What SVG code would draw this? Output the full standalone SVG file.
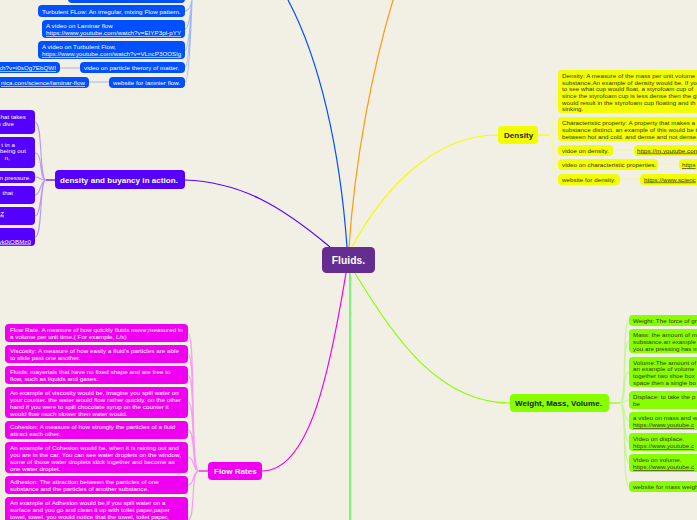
<svg xmlns="http://www.w3.org/2000/svg" width="697" height="520" viewBox="0 0 697 520">
<style>
text{font-family:"Liberation Sans",Arial,sans-serif;font-size:6.2px;letter-spacing:.05px}
.w{fill:#fff}.d{fill:#333310}.e{text-anchor:end}
.u{text-decoration:underline}
.b{font-weight:bold;font-size:8px}
.bl{fill:#0050ff}.pu{fill:#5500ff}.pk{fill:#f000f0}.ye{fill:#f2ff00}.gr{fill:#88ff00}
path{fill:none}
.cb{stroke:#9db9f5;stroke-width:1.1}.cp{stroke:#b99af5;stroke-width:1.1}.ck{stroke:#f79cf2;stroke-width:1.1}.cy{stroke:#f5f6a5;stroke-width:1.1}.cg{stroke:#c5f598;stroke-width:1.1}
</style>
<rect width="697" height="520" fill="#f2efe4"/>
<g id="connectors">
<path d="M347 247C340 150 320 60 288 0" stroke="#0050ff" stroke-width="1.2"/>
<path d="M349 247C355 160 372 70 393 0" stroke="#ff9a10" stroke-width="1.2"/>
<path d="M330 247C280 205 240 182 185 180" stroke="#5500ff" stroke-width="1.2"/>
<path d="M352 247C380 195 430 135 498 135" stroke="#f2ff00" stroke-width="1.2"/>
<path d="M355 273C395 340 440 403 510 403" stroke="#88ff00" stroke-width="1.2"/>
<path d="M346 273C330 370 310 471 262 471" stroke="#f000f0" stroke-width="1.2"/>
<path d="M350 273V520" stroke="#22ff22" stroke-width="1.2"/>
<path class="cb" d="M185 11C189 11 191 5 192 0M185 29C189 29 191 10 192 0M185 50C189 50 191 15 192 0M185 67C189 67 191 20 192 0M185 82C189 82 191 30 192 0"/>
<path class="cb" d="M60 68H80M89 82H109"/>
<path d="M55 180H46" stroke="#5500ff" stroke-width="1.2"/>
<path class="cp" d="M46 180C39 180 43 122 35 122M46 180C39 180 43 153 35 153M46 180C40 180 40 177 35 177M46 180C40 180 41 195 35 195M46 180C40 180 42 216 35 216M46 180C39 180 43 237 35 237"/>
<path d="M208 471H199" stroke="#f000f0" stroke-width="1.2"/>
<path class="ck" d="M199 471C190 471 196 333 188 333M199 471C190 471 196 354 188 354M199 471C190 471 196 375 188 375M199 471C190 471 196 402 188 402M199 471C191 471 196 430 188 430M199 471C192 471 195 457 188 457M199 471C192 471 195 485 188 485M199 471C190 471 196 520 188 520"/>
<path d="M538 135H549" stroke="#f2ff00" stroke-width="1.2"/>
<path class="cy" d="M549 135C555 135 552 91 558 91M549 135C553 135 554 129 558 129M549 135C554 135 553 150 558 150M549 135C555 135 552 164 558 164M549 135C555 135 552 179 558 179M613 150H634M658 164H679M620 179H640"/>
<path d="M609 403H620" stroke="#88ff00" stroke-width="1.2"/>
<path class="cg" d="M620 403C627 403 622 320 629 320M620 403C627 403 622 341 629 341M620 403C627 403 622 372 629 372M620 403C625 403 624 400 629 400M620 403C625 403 624 421 629 421M620 403C626 403 623 442 629 442M620 403C626 403 623 463 629 463M620 403C627 403 622 487 629 487"/>
</g>
<g id="central"><rect x="322" y="247" width="53" height="26" rx="4.500" fill="#662d91"/><text x="348.500" y="264" text-anchor="middle" class="w b" style="font-size:10.300px">Fluids.</text></g>
<g id="blue-top"><rect class="bl" x="68" y="-12" width="117" height="15" rx="4"/></g>
<g id="blue-1"><rect class="bl" x="38" y="5" width="147" height="12" rx="4"/><text class="w" x="42" y="13.500">Turbulent FLow: An irregular, mixing Flow pattern.</text></g>
<g id="blue-2"><rect class="bl" x="42" y="20" width="143" height="18" rx="4"/><text class="w" x="46" y="28">A video on Laminar flow</text><text class="w u" x="46" y="35.300">https://www.youtube.com/watch?v=EIYP3pl-pYY</text></g>
<g id="blue-3"><rect class="bl" x="38" y="41" width="147" height="18" rx="4"/><text class="w" x="42" y="49">A video on Turbulent Flow,</text><text class="w u" x="42" y="56.300">https://www.youtube.com/watch?v=VLncP3OOSlg</text></g>
<g id="blue-4"><rect class="bl" x="80" y="62" width="105" height="11" rx="4"/><text class="w" x="84" y="70">video on particle therory of matter.</text></g>
<g id="blue-4a"><rect class="bl" x="-20" y="62" width="80" height="11" rx="4"/><text class="w u e" x="56" y="70">ch?v=i0sOg7EbQWI</text></g>
<g id="blue-5"><rect class="bl" x="109" y="77" width="76" height="11" rx="4"/><text class="w" x="113" y="85">website for lamnier flow.</text></g>
<g id="blue-5a"><rect class="bl" x="-20" y="77" width="109" height="11" rx="4"/><text class="w u e" x="85" y="85">nica.com/science/laminar-flow</text></g>
<g id="density-buoyancy"><rect class="pu" x="55" y="170" width="130" height="19" rx="4"/><text class="w b" x="60" y="183">density and buyancy in action.</text></g>
<g id="purple-1"><rect class="pu" x="-20" y="110" width="55" height="24" rx="4"/><text class="w e" x="26" y="118.500">hat takes</text><text class="w e" x="14" y="125.500">n dive</text></g>
<g id="purple-2"><rect class="pu" x="-20" y="137" width="55" height="31" rx="4"/><text class="w e" x="15" y="146.500">t in a</text><text class="w e" x="26" y="152.500">being out</text><text class="w e" x="10" y="159.500">n,</text></g>
<g id="purple-3"><rect class="pu" x="-20" y="171" width="55" height="12" rx="4"/><text class="w e" x="31" y="180">n pressure.</text></g>
<g id="purple-4"><rect class="pu" x="-20" y="186" width="55" height="18" rx="4"/><text class="w e" x="13" y="194.500">that</text></g>
<g id="purple-5"><rect class="pu" x="-20" y="207" width="55" height="18" rx="4"/><text class="w u e" x="4" y="215.500">Z</text></g>
<g id="purple-6"><rect class="pu" x="-20" y="228" width="55" height="18" rx="4"/><text class="w u e" x="31" y="243.500">vk0tOBMz0</text></g>
<g id="flow-rates"><rect class="pk" x="208" y="462" width="54" height="18" rx="4"/><text class="w b" x="214" y="474">Flow Rates</text></g>
<g id="pink-1"><rect class="pk" x="5" y="324" width="183" height="18" rx="4"/><text class="w" x="10" y="332">Flow Rate. A measure of how quickly fluids move;measured in</text><text class="w" x="10" y="339.300">a volume per unit time.( For example, L/s)</text></g>
<g id="pink-2"><rect class="pk" x="5" y="345" width="183" height="18" rx="4"/><text class="w" x="10" y="353">Viscosity: A measure of how easily a fluid's particles are able</text><text class="w" x="10" y="360.300">to slide past one another.</text></g>
<g id="pink-3"><rect class="pk" x="5" y="366" width="183" height="18" rx="4"/><text class="w" x="10" y="374">Fluids: mayerials that have no fixed shape and are free to</text><text class="w" x="10" y="381.300">flow, such as liquids and gases.</text></g>
<g id="pink-4"><rect class="pk" x="5" y="387" width="183" height="31" rx="4"/><text class="w" x="10" y="395">An example of viscosity would be, imagine you spill water on</text><text class="w" x="10" y="402">your counter. the water would flow rather quickly. on the other</text><text class="w" x="10" y="409">hand if you were to spill chocolate syrup on the counter it</text><text class="w" x="10" y="416">would flow much slower then water would.</text></g>
<g id="pink-5"><rect class="pk" x="5" y="421" width="183" height="18" rx="4"/><text class="w" x="10" y="429">Cohesion: A measure of how strongly the particles of a fluid</text><text class="w" x="10" y="436.300">attract each other.</text></g>
<g id="pink-6"><rect class="pk" x="5" y="442" width="183" height="31" rx="4"/><text class="w" x="10" y="450">An example of Cohesion would be, when it is raining out and</text><text class="w" x="10" y="457">you are in the car. You can see water droplets on the window,</text><text class="w" x="10" y="464">some of those water droplets stick together and become as</text><text class="w" x="10" y="471">one water droplet.</text></g>
<g id="pink-7"><rect class="pk" x="5" y="476" width="183" height="18" rx="4"/><text class="w" x="10" y="484">Adhesion: The attraction between the particles of one</text><text class="w" x="10" y="491.300">substance and the particles of another substance.</text></g>
<g id="pink-8"><rect class="pk" x="5" y="497" width="183" height="35" rx="4"/><text class="w" x="10" y="505">An example of Adhesion would be,if you spill water on a</text><text class="w" x="10" y="512">surface and you go and clean it up with toilet paper,paper</text><text class="w" x="10" y="519">towel, towel. you would notice that the towel, toilet paper,</text></g>
<g id="density"><rect class="ye" x="498" y="126" width="40" height="18" rx="4"/><text class="b" x="504" y="138" fill="#222">Density</text></g>
<g id="yellow-1"><rect class="ye" x="558" y="70" width="150" height="43" rx="4"/><text class="d" x="562" y="78">Density: A measure of the mass per unit volume of a</text><text class="d" x="562" y="84.500">substance.An example of density would be. If you</text><text class="d" x="562" y="91">to see what cup would float, a styrofoam cup of</text><text class="d" x="562" y="97.500">since the styrofoam cup is less dense then the gl</text><text class="d" x="562" y="104.500">would result in the styrofoam cup floating and th</text><text class="d" x="562" y="110.500">sinking.</text></g>
<g id="yellow-2"><rect class="ye" x="558" y="117" width="150" height="24" rx="4"/><text class="d" x="562" y="125">Characteristic property: A property that makes a</text><text class="d" x="562" y="131.500">substance distinct. an example of this would be t</text><text class="d" x="562" y="138.500">between hot and cold. and dense and not dense.</text></g>
<g id="yellow-3"><rect class="ye" x="558" y="145" width="55" height="11" rx="4"/><text class="d" x="562" y="152.500">vidoe on density.</text></g>
<g id="yellow-3a"><rect class="ye" x="634" y="145" width="80" height="11" rx="4"/><text class="d u" x="637" y="152.500">https://m.youtube.com</text></g>
<g id="yellow-4"><rect class="ye" x="558" y="159" width="100" height="11" rx="4"/><text class="d" x="562" y="167">video on characteristic properties.</text></g>
<g id="yellow-4a"><rect class="ye" x="679" y="159" width="40" height="11" rx="4"/><text class="d u" x="682" y="167">https</text></g>
<g id="yellow-5"><rect class="ye" x="558" y="174" width="62" height="11" rx="4"/><text class="d" x="562" y="181.500">website for density.</text></g>
<g id="yellow-5a"><rect class="ye" x="640" y="174" width="80" height="11" rx="4"/><text class="d u" x="644" y="181.500">https://www.scienc</text></g>
<g id="weight"><rect class="gr" x="510" y="394" width="99" height="18" rx="4"/><text class="b" x="515" y="406" fill="#222">Weight, Mass, Volume.</text></g>
<g id="green-1"><rect class="gr" x="629" y="315" width="80" height="11" rx="4"/><text class="d" x="633" y="323">Weight: The force of gr</text></g>
<g id="green-2"><rect class="gr" x="629" y="329" width="80" height="24" rx="4"/><text class="d" x="633" y="337">Mass: the amount of m</text><text class="d" x="633" y="344">substance.an example</text><text class="d" x="633" y="350.500">you are pressing has m</text></g>
<g id="green-3"><rect class="gr" x="629" y="357" width="80" height="30" rx="4"/><text class="d" x="633" y="365">Volume:The amount of</text><text class="d" x="633" y="371">an example of volume</text><text class="d" x="633" y="378">together two shoe box</text><text class="d" x="633" y="384.500">space then a single bo</text></g>
<g id="green-4"><rect class="gr" x="629" y="391" width="80" height="18" rx="4"/><text class="d" x="633" y="399">Displace: to take the p</text><text class="d" x="633" y="406">be</text></g>
<g id="green-5"><rect class="gr" x="629" y="412" width="80" height="18" rx="4"/><text class="d" x="633" y="420">a video on mass and w</text><text class="d u" x="633" y="427">https://www.youtube.c</text></g>
<g id="green-6"><rect class="gr" x="629" y="433" width="80" height="18" rx="4"/><text class="d" x="633" y="441">Video on displace.</text><text class="d u" x="633" y="448">https://www.youtube.c</text></g>
<g id="green-7"><rect class="gr" x="629" y="454" width="80" height="18" rx="4"/><text class="d" x="633" y="462">Video on volume.</text><text class="d u" x="633" y="469">https://www.youtube.c</text></g>
<g id="green-8"><rect class="gr" x="629" y="481" width="80" height="11" rx="4"/><text class="d" x="633" y="489">website for mass weigh</text></g>
</svg>
